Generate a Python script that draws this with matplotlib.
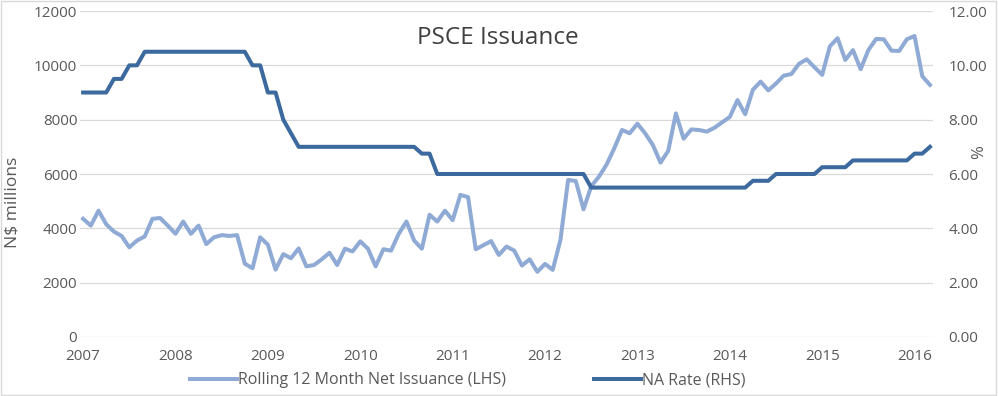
import matplotlib

matplotlib.use("Agg")
import matplotlib.pyplot as plt
from matplotlib.patches import Rectangle

plt.rcParams["font.family"] = ["Open Sans", "DejaVu Sans"]

# monthly data, Jan 2007 .. Mar 2016
issuance = [
    4350, 4100, 4650, 4150, 3880, 3720, 3300, 3550, 3700, 4350, 4380, 4100,
    3800, 4250, 3800, 4100, 3420, 3670, 3750, 3720, 3750, 2700, 2530, 3670,
    3400, 2480, 3050, 2900, 3260, 2600, 2650, 2860, 3100, 2650, 3250, 3150,
    3520, 3250, 2600, 3230, 3180, 3800, 4250, 3550, 3250, 4500, 4250, 4650,
    4300, 5230, 5150, 3230, 3380, 3530, 3020, 3330, 3180, 2630, 2860, 2400,
    2690, 2470, 3570, 5780, 5740, 4700, 5550, 5900, 6350, 6950, 7620, 7500,
    7850, 7500, 7070, 6420, 6850, 8230, 7300, 7640, 7620, 7560, 7700, 7900,
    8100, 8720, 8200, 9100, 9400, 9080, 9330, 9620, 9680, 10060, 10220, 9930,
    9650, 10700, 11000, 10200, 10560, 9860, 10560, 10970, 10960, 10540, 10530, 10960,
    11080, 9600, 9280,
]
na_rate = [
    9.0, 9.0, 9.0, 9.0, 9.5, 9.5, 10.0, 10.0, 10.5, 10.5, 10.5, 10.5,
    10.5, 10.5, 10.5, 10.5, 10.5, 10.5, 10.5, 10.5, 10.5, 10.5, 10.0, 10.0,
    9.0, 9.0, 8.0, 7.5, 7.0, 7.0, 7.0, 7.0, 7.0, 7.0, 7.0, 7.0,
    7.0, 7.0, 7.0, 7.0, 7.0, 7.0, 7.0, 7.0, 6.75, 6.75, 6.0, 6.0,
    6.0, 6.0, 6.0, 6.0, 6.0, 6.0, 6.0, 6.0, 6.0, 6.0, 6.0, 6.0,
    6.0, 6.0, 6.0, 6.0, 6.0, 6.0, 5.5, 5.5, 5.5, 5.5, 5.5, 5.5,
    5.5, 5.5, 5.5, 5.5, 5.5, 5.5, 5.5, 5.5, 5.5, 5.5, 5.5, 5.5,
    5.5, 5.5, 5.5, 5.75, 5.75, 5.75, 6.0, 6.0, 6.0, 6.0, 6.0, 6.0,
    6.25, 6.25, 6.25, 6.25, 6.5, 6.5, 6.5, 6.5, 6.5, 6.5, 6.5, 6.5,
    6.75, 6.75, 7.0,
]
years = ["2007", "2008", "2009", "2010", "2011", "2012", "2013", "2014", "2015", "2016"]
left_ticks = [0, 2000, 4000, 6000, 8000, 10000, 12000]
right_ticks = [0, 2, 4, 6, 8, 10, 12]

LIGHT = "#8FAAD4"
DARK = "#3D6A9E"
GRID = "#D9D9D9"
TXT = "#595959"

fig = plt.figure(figsize=(9.98, 3.96), dpi=100)
ax = fig.add_axes([0.0802, 0.149, 0.8547, 0.8232])
ax2 = ax.twinx()

months = list(range(len(issuance)))
l1, = ax.plot(months, issuance, color=LIGHT, lw=2.9,
              label="Rolling 12 Month Net Issuance (LHS)", zorder=3)
l2, = ax2.plot(months, na_rate, color=DARK, lw=2.9,
               label="NA Rate (RHS)", zorder=3)

ax.set_xlim(-0.4, len(issuance) - 0.6)
ax.set_ylim(0, 12000)
ax2.set_ylim(0, 12)
ax.set_yticks(left_ticks)
ax.set_yticklabels([str(v) for v in left_ticks])
ax2.set_yticks(right_ticks)
ax2.set_yticklabels([f"{v:.2f}" for v in right_ticks])
ax.set_xticks([12 * k for k in range(len(years))])
ax.set_xticklabels(years)

ax.grid(axis="y", color=GRID, lw=0.9)
ax.set_axisbelow(True)
for a in (ax, ax2):
    for s in a.spines.values():
        s.set_visible(False)
    a.tick_params(length=0, labelsize=11, labelcolor=TXT)
ax.tick_params(axis="y", pad=2)
ax.tick_params(axis="x", pad=9)
ax2.tick_params(axis="y", pad=11)

fig.text(0.013, 0.49, "N$ millions", rotation=90, ha="center", va="center",
         fontsize=12.5, color=TXT)
fig.text(0.981, 0.615, "%", rotation=90, ha="center", va="center",
         fontsize=12, color=TXT)
fig.text(0.499, 0.905, "PSCE Issuance", ha="center", va="center",
         fontsize=17.5, color="#404040")

fig.legend(handles=[l1, l2], loc="center", bbox_to_anchor=(0.469, 0.04),
           ncol=2, frameon=False, fontsize=11.5, labelcolor=TXT,
           handlelength=2.9, handletextpad=0.1, columnspacing=5.5)

fig.patches.append(Rectangle((0.001, 0.002), 0.997, 0.995, transform=fig.transFigure,
                             fill=False, edgecolor=GRID, lw=1))

fig.savefig("out.png", dpi=100, facecolor="white")
